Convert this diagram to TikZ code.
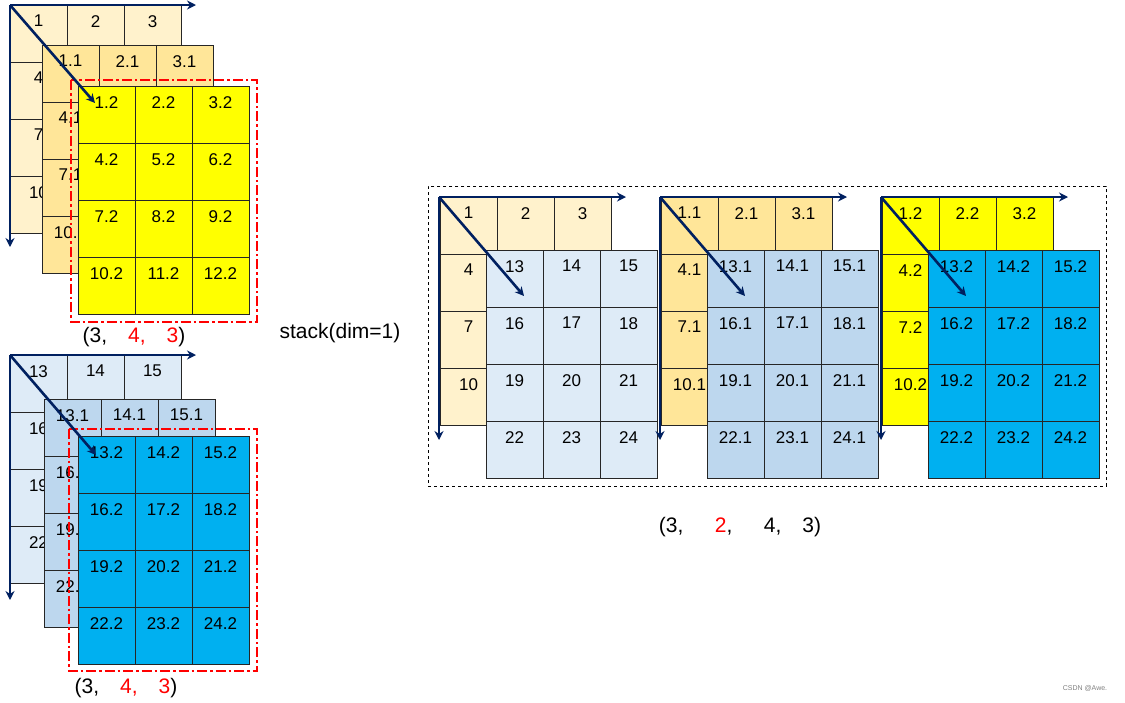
\documentclass[tikz,border=0pt]{standalone}
\usepackage{fontspec}
\setmainfont{Liberation Sans}
\usetikzlibrary{arrows.meta}
\definecolor{navy}{HTML}{002060}
\definecolor{cA}{HTML}{FFF2CC}
\definecolor{cB}{HTML}{FFE699}
\definecolor{cC}{HTML}{FFFF00}
\definecolor{dA}{HTML}{DEEBF7}
\definecolor{dB}{HTML}{BDD7EE}
\definecolor{dC}{HTML}{00B0F0}
\tikzset{
  cell/.style={draw=black!85,line width=1pt,minimum width=57pt,minimum height=57pt,anchor=north west,inner sep=0pt,outer sep=0pt},
  ax/.style={draw=navy,line width=2.6pt,-{Stealth[length=9pt,width=9pt]}},
  reddash/.style={draw=red,line width=2pt,dash pattern=on 10pt off 3pt on 2.5pt off 3pt},
  txt/.style={font=\fontsize{17}{19}\selectfont,inner sep=0pt},
  big/.style={font=\fontsize{21}{23}\selectfont,inner sep=0pt}
}
\newcommand{\mylayer}[5]{% name, x, y, fill, labels
  \foreach \t [count=\i from 0] in {#5}{
    \pgfmathtruncatemacro{\cc}{mod(\i,3)}
    \pgfmathtruncatemacro{\rr}{int(\i/3)}
    \node[cell,fill=#4,label={[txt,anchor=north,yshift=-10pt]north:\t}] (#1-\i) at ({#2+57*\cc},{#3+57*\rr}) {};
  }
}
\begin{document}
\begin{tikzpicture}[x=1pt,y=-1pt,font=\fontsize{17}{19}\selectfont]
\useasboundingbox (0,0) rectangle (1125,702);
% ---- top left
\mylayer{a0}{10}{5}{cA}{1,2,3,4,5,6,7,8,9,10,11,12}
\coordinate (o1) at (10,5); \coordinate (x1) at (196,5); \coordinate (y1) at (10,247); \coordinate (d1) at (95,103);
\draw[ax] (o1) -- (x1); \draw[ax] (o1) -- (y1);
\mylayer{a1}{42}{45}{cB}{1.1,2.1,3.1,4.1,5.1,6.1,7.1,8.1,9.1,10.1,11.1,12.1}
\coordinate (r1a) at (71,80); \coordinate (r1b) at (257,322);
\draw[reddash] (r1a) rectangle (r1b);
\mylayer{a2}{78}{86}{cC}{1.2,2.2,3.2,4.2,5.2,6.2,7.2,8.2,9.2,10.2,11.2,12.2}
\draw[ax] (o1) -- (d1);
\node[big] (l1) at (134,337) {(3,\enspace\enspace\textcolor{red}{4,\enspace\enspace3})};
% ---- bottom left
\mylayer{b0}{10}{355}{dA}{13,14,15,16,17,18,19,20,21,22,23,24}
\coordinate (o2) at (10,355); \coordinate (x2) at (196,355); \coordinate (y2) at (10,600); \coordinate (d2) at (96,455);
\draw[ax] (o2) -- (x2); \draw[ax] (o2) -- (y2);
\mylayer{b1}{44}{399}{dB}{13.1,14.1,15.1,16.1,17.1,18.1,19.1,20.1,21.1,22.1,23.1,24.1}
\coordinate (r2a) at (69,429); \coordinate (r2b) at (257,671);
\draw[reddash] (r2a) rectangle (r2b);
\mylayer{b2}{78}{436}{dC}{13.2,14.2,15.2,16.2,17.2,18.2,19.2,20.2,21.2,22.2,23.2,24.2}
\draw[ax] (o2) -- (d2);
\node[big] (l2) at (126,688) {(3,\enspace\enspace\textcolor{red}{4,\enspace\enspace3})};
% ---- right
\node[draw,dashed,line width=0.7pt,minimum width=678pt,minimum height=300pt,anchor=north west,inner sep=0pt] (box) at (428,186) {};
\node[big] (st) at (340,333) {stack(dim=1)};
\foreach \k/\dx/\fa/\fb/\s in {0/0/cA/dA/,1/221/cB/dB/.1,2/442/cC/dC/.2}{
  \begin{scope}[xshift=\dx pt]
  \mylayer{p\k}{440}{197}{\fa}{1\s,2\s,3\s,4\s,5\s,6\s,7\s,8\s,9\s,10\s,11\s,12\s}
  \mylayer{q\k}{486}{250}{\fb}{13\s,14\s,15\s,16\s,17\s,18\s,19\s,20\s,21\s,22\s,23\s,24\s}
  \coordinate (po\k) at (439,197); \coordinate (px\k) at (626,197); \coordinate (py\k) at (439,440); \coordinate (pd\k) at (524,296);
  \draw[ax] (po\k) -- (px\k); \draw[ax] (po\k) -- (py\k); \draw[ax] (po\k) -- (pd\k);
  \end{scope}
}
\node[big] (shape) at (740,527) {(3,\enspace\enspace\enspace\textcolor{red}{2},\enspace\enspace\enspace4,\enspace\enspace3)};
\node[font=\fontsize{7}{8}\selectfont,text=gray] (csdn) at (1085,688) {CSDN @Awe.};
\end{tikzpicture}
\end{document}
